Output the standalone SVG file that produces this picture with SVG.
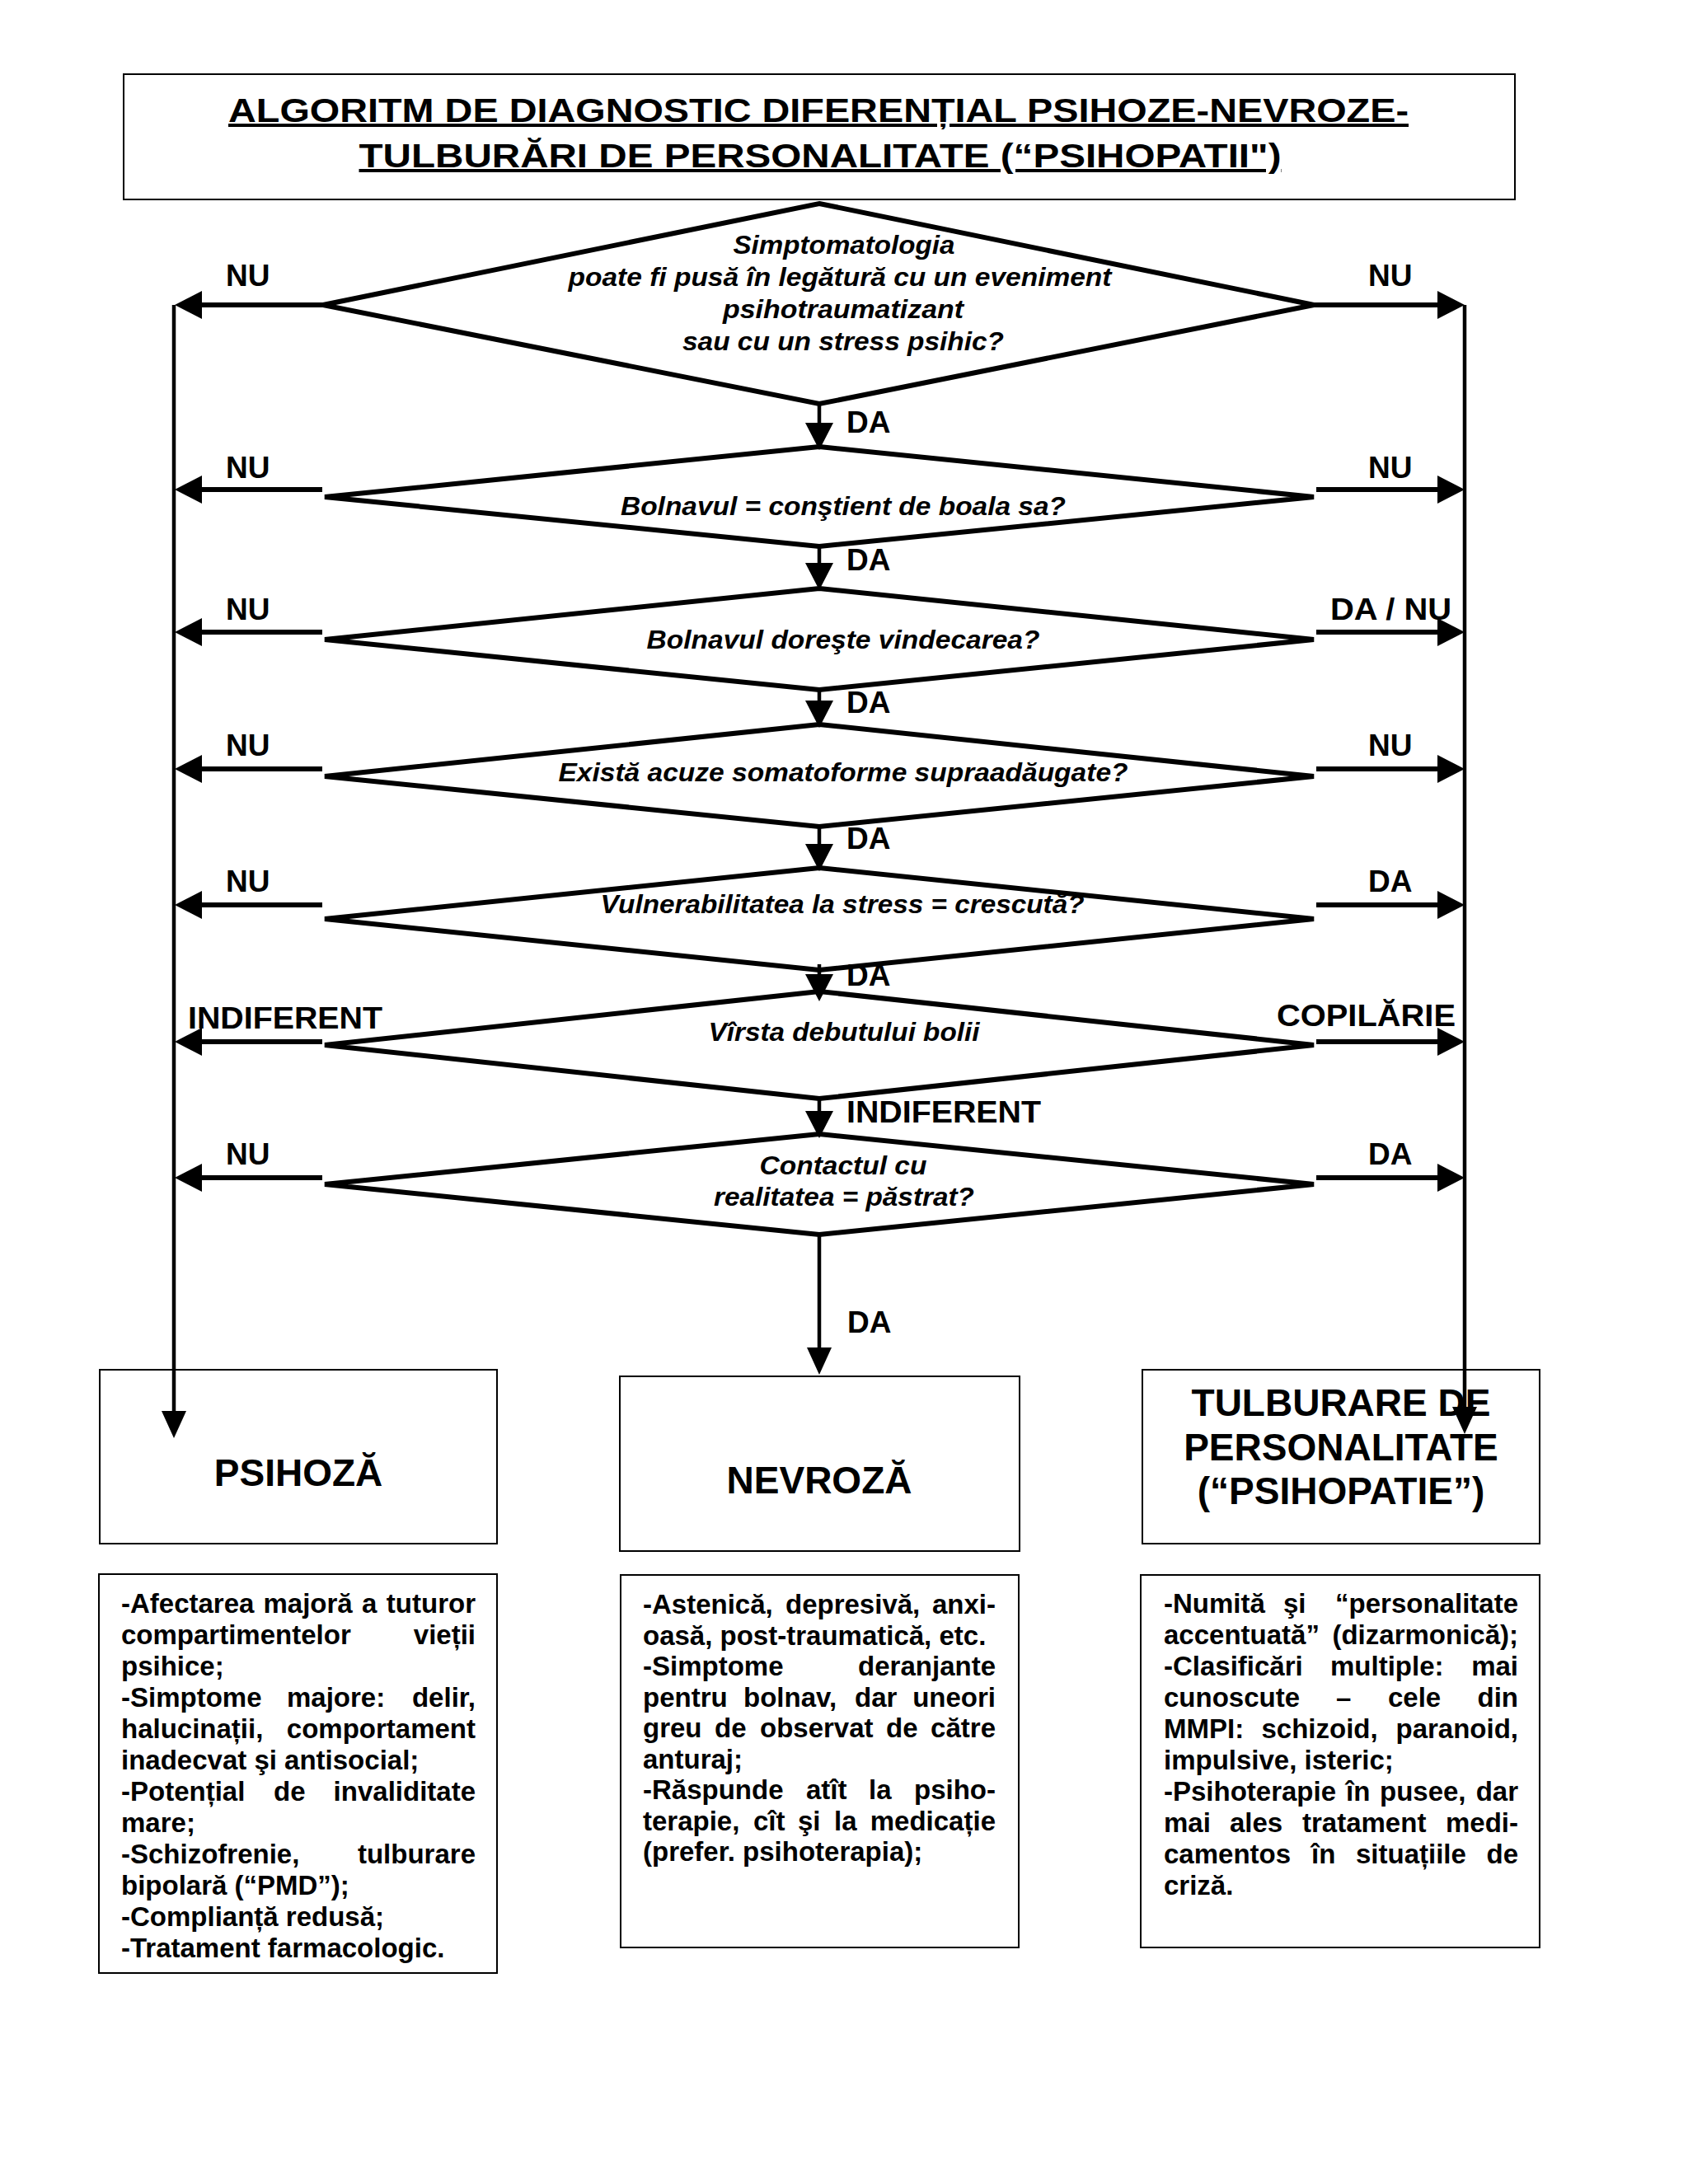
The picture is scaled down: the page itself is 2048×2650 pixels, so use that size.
<svg xmlns="http://www.w3.org/2000/svg" width="2048" height="2650" viewBox="0 0 2048 2650">
<style>
text{font-family:"Liberation Sans",Arial,sans-serif;font-weight:bold;fill:#000}
.box{fill:none;stroke:#000;stroke-width:2}
.dia{fill:none;stroke:#000;stroke-width:6;stroke-linejoin:miter}
.q{font-style:italic;font-size:31px;text-anchor:middle}
.lbl{font-size:37px}
.big{font-size:46px;text-anchor:middle}
.body{font-size:33px}
.e{text-anchor:end}
.stub{stroke:#000;stroke-width:6;fill:none}
.thin{stroke:#000;stroke-width:4.5;fill:none}
</style>
<defs>
<marker id="ah" markerUnits="userSpaceOnUse" markerWidth="34" markerHeight="34" refX="0" refY="17" orient="auto" overflow="visible"><path d="M0,0 L33,17 L0,34 z" fill="#000"/></marker>
<marker id="ahn" markerUnits="userSpaceOnUse" markerWidth="34" markerHeight="30" refX="0" refY="15" orient="auto" overflow="visible"><path d="M0,0 L33,15 L0,30 z" fill="#000"/></marker>
<clipPath id="clip1"><rect x="120" y="1909" width="484" height="473"/></clipPath>
</defs>
<rect width="2048" height="2650" fill="#fff"/>

<g id="title">
<rect class="box" x="150" y="90" width="1688" height="152"/>
<text x="993" y="148" font-size="40" text-anchor="middle" text-decoration="underline" textLength="1432" lengthAdjust="spacingAndGlyphs">ALGORITM DE DIAGNOSTIC DIFERENȚIAL PSIHOZE-NEVROZE-</text>
<text x="995" y="203" font-size="40" text-anchor="middle" text-decoration="underline" textLength="1119" lengthAdjust="spacingAndGlyphs">TULBURĂRI DE PERSONALITATE (“PSIHOPATII")</text>
</g>

<g id="d1">
<polygon class="dia" points="994,247 1594,370 994,490 392,370"/>
<text class="q" x="1024" y="308" textLength="269" lengthAdjust="spacingAndGlyphs">Simptomatologia</text>
<text class="q" x="1019" y="347" textLength="659" lengthAdjust="spacingAndGlyphs">poate fi pusă în legătură cu un eveniment</text>
<text class="q" x="1023" y="386" textLength="292" lengthAdjust="spacingAndGlyphs">psihotraumatizant</text>
<text class="q" x="1023" y="425" textLength="390" lengthAdjust="spacingAndGlyphs">sau cu un stress psihic?</text>
</g>
<g id="d2">
<polygon class="dia" points="994,542 1594,603 994,663 394,603"/>
<text class="q" x="1023" y="625" textLength="540" lengthAdjust="spacingAndGlyphs">Bolnavul = conştient de boala sa?</text>
</g>
<g id="d3">
<polygon class="dia" points="994,714 1594,776 994,837 394,776"/>
<text class="q" x="1023" y="787" textLength="477" lengthAdjust="spacingAndGlyphs">Bolnavul doreşte vindecarea?</text>
</g>
<g id="d4">
<polygon class="dia" points="994,879 1594,942 994,1003 394,942"/>
<text class="q" x="1023" y="948" textLength="691" lengthAdjust="spacingAndGlyphs">Există acuze somatoforme supraadăugate?</text>
</g>
<g id="d5">
<polygon class="dia" points="994,1053 1594,1115 994,1177 394,1115"/>
<text class="q" x="1022" y="1108" textLength="587" lengthAdjust="spacingAndGlyphs">Vulnerabilitatea la stress = crescută?</text>
</g>
<g id="d6">
<polygon class="dia" points="994,1203 1594,1268 994,1333 394,1268"/>
<text class="q" x="1024" y="1263" textLength="329" lengthAdjust="spacingAndGlyphs">Vîrsta debutului bolii</text>
</g>
<g id="d7">
<polygon class="dia" points="994,1376 1594,1437 994,1498 394,1437"/>
<text class="q" x="1023" y="1425" textLength="203" lengthAdjust="spacingAndGlyphs">Contactul cu</text>
<text class="q" x="1024" y="1463" textLength="316" lengthAdjust="spacingAndGlyphs">realitatea = păstrat?</text>
</g>

<g id="psihoza">
<rect class="box" x="121" y="1662" width="482" height="211"/>
<text class="big" x="362" y="1803">PSIHOZĂ</text>
</g>
<g id="nevroza">
<rect class="box" x="752" y="1670" width="485" height="212"/>
<text class="big" x="994" y="1812">NEVROZĂ</text>
</g>
<g id="tulburare">
<rect class="box" x="1386" y="1662" width="482" height="211"/>
<text class="big" x="1627" y="1718">TULBURARE DE</text>
<text class="big" x="1627" y="1772">PERSONALITATE</text>
<text class="big" x="1627" y="1825">(“PSIHOPATIE”)</text>
</g>

<g id="psihoza-info">
<rect class="box" x="120" y="1910" width="483" height="484"/>
<g class="body" clip-path="url(#clip1)">
<text x="147" y="1957">-Afectarea</text><text x="319.5" y="1957">majoră</text><text x="439" y="1957">a</text><text class="e" x="577" y="1957">tuturor</text>
<text x="147" y="1995">compartimentelor</text><text class="e" x="577" y="1995">vieții</text>
<text x="147" y="2033">psihice;</text>
<text x="147" y="2071">-Simptome</text><text x="348" y="2071">majore:</text><text class="e" x="577" y="2071">delir,</text>
<text x="147" y="2109">halucinații,</text><text class="e" x="577" y="2109">comportament</text>
<text x="147" y="2147">inadecvat şi antisocial;</text>
<text x="147" y="2185">-Potențial</text><text x="332" y="2185">de</text><text class="e" x="577" y="2185">invaliditate</text>
<text x="147" y="2223">mare;</text>
<text x="147" y="2261">-Schizofrenie,</text><text class="e" x="577" y="2261">tulburare</text>
<text x="147" y="2299">bipolară (“PMD”);</text>
<text x="147" y="2337">-Complianță redusă;</text>
<text x="147" y="2375">-Tratament farmacologic.</text>
</g>
</g>

<g id="nevroza-info">
<rect class="box" x="753" y="1911" width="483" height="452"/>
<g class="body">
<text x="780" y="1958">-Astenică,</text><text x="953" y="1958">depresivă,</text><text class="e" x="1208" y="1958">anxi-</text>
<text x="780" y="1995.5">oasă, post-traumatică, etc.</text>
<text x="780" y="2033">-Simptome</text><text class="e" x="1208" y="2033">deranjante</text>
<text x="780" y="2070.5">pentru</text><text x="902" y="2070.5">bolnav,</text><text x="1037" y="2070.5">dar</text><text class="e" x="1208" y="2070.5">uneori</text>
<text x="780" y="2108">greu</text><text x="867" y="2108">de</text><text x="922" y="2108">observat</text><text x="1075" y="2108">de</text><text class="e" x="1208" y="2108">către</text>
<text x="780" y="2145.5">anturaj;</text>
<text x="780" y="2183">-Răspunde</text><text x="978" y="2183">atît</text><text x="1054" y="2183">la</text><text class="e" x="1208" y="2183">psiho-</text>
<text x="780" y="2220.5">terapie,</text><text x="914" y="2220.5">cît</text><text x="968" y="2220.5">şi</text><text x="1012" y="2220.5">la</text><text class="e" x="1208" y="2220.5">medicație</text>
<text x="780" y="2258">(prefer. psihoterapia);</text>
</g>
</g>

<g id="tulburare-info">
<rect class="box" x="1384" y="1911" width="484" height="452"/>
<g class="body">
<text x="1412" y="1957">-Numită</text><text x="1557" y="1957">şi</text><text class="e" x="1842" y="1957">“personalitate</text>
<text x="1412" y="1995">accentuată”</text><text class="e" x="1842" y="1995">(dizarmonică);</text>
<text x="1412" y="2033">-Clasificări</text><text x="1614" y="2033">multiple:</text><text class="e" x="1842" y="2033">mai</text>
<text x="1412" y="2071">cunoscute</text><text x="1621" y="2071">–</text><text x="1684" y="2071">cele</text><text class="e" x="1842" y="2071">din</text>
<text x="1412" y="2109">MMPI:</text><text x="1530.5" y="2109">schizoid,</text><text class="e" x="1842" y="2109">paranoid,</text>
<text x="1412" y="2147">impulsive, isteric;</text>
<text x="1412" y="2185">-Psihoterapie</text><text x="1633" y="2185">în</text><text x="1674" y="2185">pusee,</text><text class="e" x="1842" y="2185">dar</text>
<text x="1412" y="2223">mai</text><text x="1492" y="2223">ales</text><text x="1580" y="2223">tratament</text><text class="e" x="1842" y="2223">medi-</text>
<text x="1412" y="2261">camentos</text><text x="1591" y="2261">în</text><text x="1645" y="2261">situațiile</text><text class="e" x="1842" y="2261">de</text>
<text x="1412" y="2299">criză.</text>
</g>
</g>

<g id="connectors">
<line class="thin" x1="211" y1="370" x2="211" y2="1712" marker-end="url(#ahn)"/>
<line class="thin" x1="1777" y1="370" x2="1777" y2="1707" marker-end="url(#ahn)"/>
<line class="stub" x1="392" y1="370" x2="245" y2="370" marker-end="url(#ah)"/>
<line class="stub" x1="391" y1="594" x2="245" y2="594" marker-end="url(#ah)"/>
<line class="stub" x1="391" y1="767" x2="245" y2="767" marker-end="url(#ah)"/>
<line class="stub" x1="391" y1="933" x2="245" y2="933" marker-end="url(#ah)"/>
<line class="stub" x1="391" y1="1098" x2="245" y2="1098" marker-end="url(#ah)"/>
<line class="stub" x1="391" y1="1264" x2="245" y2="1264" marker-end="url(#ah)"/>
<line class="stub" x1="391" y1="1429" x2="245" y2="1429" marker-end="url(#ah)"/>
<line class="stub" x1="1594" y1="370" x2="1744" y2="370" marker-end="url(#ah)"/>
<line class="stub" x1="1597" y1="594" x2="1744" y2="594" marker-end="url(#ah)"/>
<line class="stub" x1="1597" y1="767" x2="1744" y2="767" marker-end="url(#ah)"/>
<line class="stub" x1="1597" y1="933" x2="1744" y2="933" marker-end="url(#ah)"/>
<line class="stub" x1="1597" y1="1098" x2="1744" y2="1098" marker-end="url(#ah)"/>
<line class="stub" x1="1597" y1="1264" x2="1744" y2="1264" marker-end="url(#ah)"/>
<line class="stub" x1="1597" y1="1429" x2="1744" y2="1429" marker-end="url(#ah)"/>
<line class="thin" x1="994" y1="488" x2="994" y2="513" marker-end="url(#ah)"/>
<line class="thin" x1="994" y1="661" x2="994" y2="683" marker-end="url(#ah)"/>
<line class="thin" x1="994" y1="835" x2="994" y2="850" marker-end="url(#ah)"/>
<line class="thin" x1="994" y1="1001" x2="994" y2="1024" marker-end="url(#ah)"/>
<line class="thin" x1="994" y1="1170" x2="994" y2="1182" marker-end="url(#ah)"/>
<line class="thin" x1="994" y1="1331" x2="994" y2="1348" marker-end="url(#ah)"/>
<line class="thin" x1="994" y1="1498" x2="994" y2="1635" marker-end="url(#ahn)"/>
<text class="lbl" x="274" y="347">NU</text>
<text class="lbl" x="1660" y="347">NU</text>
<text class="lbl" x="1027" y="525">DA</text>
<text class="lbl" x="274" y="580">NU</text>
<text class="lbl" x="1660" y="580">NU</text>
<text class="lbl" x="1027" y="692">DA</text>
<text class="lbl" x="274" y="752">NU</text>
<text class="lbl" x="1614" y="752" textLength="147" lengthAdjust="spacingAndGlyphs">DA / NU</text>
<text class="lbl" x="1027" y="865">DA</text>
<text class="lbl" x="274" y="917">NU</text>
<text class="lbl" x="1660" y="917">NU</text>
<text class="lbl" x="1027" y="1030">DA</text>
<text class="lbl" x="274" y="1082">NU</text>
<text class="lbl" x="1660" y="1082">DA</text>
<text class="lbl" x="1027" y="1196">DA</text>
<text class="lbl" x="228" y="1248" textLength="236" lengthAdjust="spacingAndGlyphs">INDIFERENT</text>
<text class="lbl" x="1549" y="1245" textLength="217" lengthAdjust="spacingAndGlyphs">COPILĂRIE</text>
<text class="lbl" x="1027" y="1362" textLength="236" lengthAdjust="spacingAndGlyphs">INDIFERENT</text>
<text class="lbl" x="274" y="1413">NU</text>
<text class="lbl" x="1660" y="1413">DA</text>
<text class="lbl" x="1028" y="1617">DA</text>
</g>
</svg>
